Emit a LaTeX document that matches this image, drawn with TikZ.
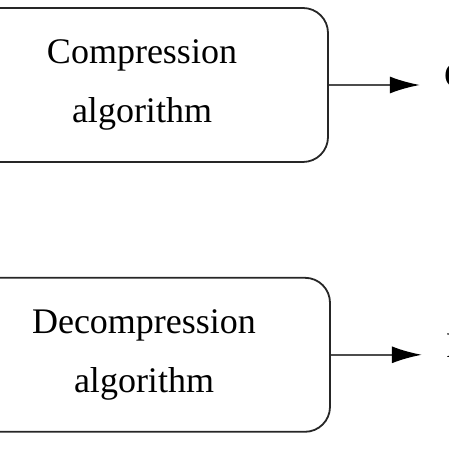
\documentclass[tikz,border=0pt]{standalone}
\usepackage{fontspec}
\setmainfont{Liberation Serif}
\usetikzlibrary{positioning,arrows.meta}

\begin{document}
\begin{tikzpicture}[
    x=1pt, y=1pt,
    node distance=114pt,
    algbox/.style={rectangle, draw=black!85, line width=1.8pt, rounded corners=25pt, minimum width=372pt, minimum height=154pt, align=center, font=\fontsize{36}{59}\selectfont},
    outtext/.style={anchor=west, inner xsep=24pt, text height=0.68em, text depth=0.22em, font=\fontsize{36}{43}\selectfont},
    arrow/.style={-{Latex[length=30pt,width=17pt,color=black]}, line width=2pt, draw=black!70}
]
\useasboundingbox (0,0) rectangle (449,449);
\clip (0,0) rectangle (449,449);

\node[algbox] (comp) at (142,364) {Compression\\algorithm};
\node[algbox, below=of comp, xshift=2pt] (decomp) {Decompression\\algorithm};

% outputs, cut off by the edge
\node[outtext, right=91pt of comp] (cdata) {Compressed data};
\node[outtext, right=88pt of decomp, xshift=3pt] (rdata) {Reconstructed data};

\draw[arrow] (comp) -- (cdata);
\draw[arrow] (decomp) -- (rdata);
\end{tikzpicture}
\end{document}
